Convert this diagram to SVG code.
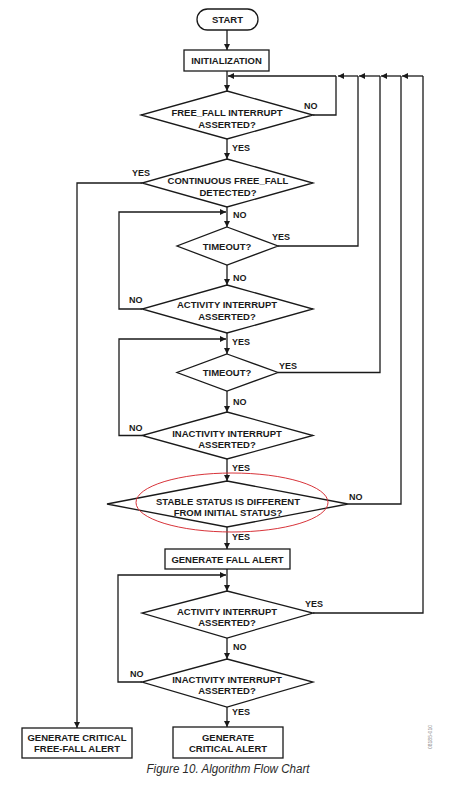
<svg xmlns="http://www.w3.org/2000/svg" width="450" height="789" viewBox="0 0 450 789">
<defs>
<style>
.n{fill:#fff;stroke:#1a1a1a;stroke-width:1.3}
.t{font-family:"Liberation Sans",Arial,sans-serif;font-weight:bold;font-size:9.5px;fill:#1a1a1a;text-anchor:middle}
.l{font-family:"Liberation Sans",Arial,sans-serif;font-weight:bold;font-size:9px;fill:#1a1a1a}
.c{fill:none;stroke:#1a1a1a;stroke-width:1.3}
.a{marker-end:url(#ah)}
</style>
<marker id="ah" viewBox="0 0 10 10" refX="10" refY="5" markerWidth="9" markerHeight="6" markerUnits="userSpaceOnUse" orient="auto">
<path d="M0,0 L10,5 L0,10 z" fill="#1a1a1a"/>
</marker>
</defs>
<rect width="450" height="789" fill="#fff"/>

<g id="connectors">
<path class="c a" d="M227,30 V50"/>
<path class="c a" d="M227,71 V91"/>
<path class="c a" d="M423,76 H402"/>
<path class="c a" d="M401,76 H381"/>
<path class="c a" d="M380,76 H359"/>
<path class="c a" d="M358,76 H338"/>
<path class="c a" d="M336,76 H228"/>
<path class="c" d="M313,115 H336 V76"/>
<path class="c a" d="M227,139 V159"/>
<path class="c a" d="M142,183 H77 V728"/>
<path class="c a" d="M227,207 V227"/>
<path class="c" d="M278,246 H358 V76"/>
<path class="c a" d="M227,265 V285"/>
<path class="c a" d="M142,309 H119 V212 H226"/>
<path class="c a" d="M227,333 V354"/>
<path class="c" d="M278,372.5 H380 V76"/>
<path class="c a" d="M227,391 V412"/>
<path class="c a" d="M142,435.5 H119 V339 H226"/>
<path class="c a" d="M227,459 V481"/>
<path class="c" d="M348,504 H401 V76"/>
<path class="c a" d="M227,527 V549"/>
<path class="c a" d="M227,569 V591"/>
<path class="c" d="M313,613 H423 V76"/>
<path class="c a" d="M142,682 H118 V575 H226"/>
<path class="c a" d="M227,638 V659"/>
<path class="c a" d="M227,707 V727"/>
<g id="labels">
<text class="l" x="304" y="109">NO</text>
<text class="l" x="232" y="151">YES</text>
<text class="l" x="132" y="176">YES</text>
<text class="l" x="233" y="218">NO</text>
<text class="l" x="272" y="240">YES</text>
<text class="l" x="233" y="281">NO</text>
<text class="l" x="129" y="303">NO</text>
<text class="l" x="232" y="345">YES</text>
<text class="l" x="279" y="369">YES</text>
<text class="l" x="233" y="405">NO</text>
<text class="l" x="129" y="431">NO</text>
<text class="l" x="232" y="471">YES</text>
<text class="l" x="349" y="500">NO</text>
<text class="l" x="232" y="540">YES</text>
<text class="l" x="305" y="607">YES</text>
<text class="l" x="233" y="650">NO</text>
<text class="l" x="130" y="677">NO</text>
<text class="l" x="232" y="715">YES</text>
</g>
</g>

<g id="start">
<rect class="n" x="197" y="9" width="61" height="21" rx="10.5"/>
<text class="t" x="227.5" y="23">START</text>
</g>
<g id="init">
<rect class="n" x="184" y="50" width="85" height="21"/>
<text class="t" x="226.5" y="64">INITIALIZATION</text>
</g>
<g id="d-freefall">
<polygon class="n" points="227,91 313,115 227,139 141,115"/>
<text class="t" x="227" y="116">FREE_FALL INTERRUPT</text>
<text class="t" x="227" y="127.5">ASSERTED?</text>
</g>
<g id="d-continuous">
<polygon class="n" points="227,159 313,183 227,207 142,183"/>
<text class="t" x="228" y="184">CONTINUOUS FREE_FALL</text>
<text class="t" x="228" y="195.5">DETECTED?</text>
</g>
<g id="d-timeout1">
<polygon class="n" points="227,227 278,246 227,265 177,246"/>
<text class="t" x="227" y="249.5">TIMEOUT?</text>
</g>
<g id="d-activity1">
<polygon class="n" points="227,285 313,309 227,333 142,309"/>
<text class="t" x="227" y="308">ACTIVITY INTERRUPT</text>
<text class="t" x="227" y="319.5">ASSERTED?</text>
</g>
<g id="d-timeout2">
<polygon class="n" points="227,354 278,372.5 227,391 177,372.5"/>
<text class="t" x="227" y="376">TIMEOUT?</text>
</g>
<g id="d-inactivity1">
<polygon class="n" points="227,412 313,435.5 227,459 142,435.5"/>
<text class="t" x="227" y="436.5">INACTIVITY INTERRUPT</text>
<text class="t" x="227" y="448">ASSERTED?</text>
</g>
<g id="d-stable">
<polygon class="n" points="227,481 348,504 227,527 107,504"/>
<text class="t" x="228" y="504.5">STABLE STATUS IS DIFFERENT</text>
<text class="t" x="228" y="516">FROM INITIAL STATUS?</text>
<ellipse cx="232" cy="502.5" rx="96" ry="29.5" fill="none" stroke="#d8343a" stroke-width="1"/>
</g>
<g id="fall-alert">
<rect class="n" x="165" y="549" width="125" height="20"/>
<text class="t" x="227.5" y="562.5">GENERATE FALL ALERT</text>
</g>
<g id="d-activity2">
<polygon class="n" points="227,591 313,613 227,638 142,613"/>
<text class="t" x="227" y="614.5">ACTIVITY INTERRUPT</text>
<text class="t" x="227" y="626">ASSERTED?</text>
</g>
<g id="d-inactivity2">
<polygon class="n" points="227,659 313,682 227,707 142,682"/>
<text class="t" x="227" y="682.5">INACTIVITY INTERRUPT</text>
<text class="t" x="227" y="694">ASSERTED?</text>
</g>
<g id="critical-freefall">
<rect class="n" x="22" y="728" width="110" height="30"/>
<text class="t" x="77" y="740.5">GENERATE CRITICAL</text>
<text class="t" x="77" y="752">FREE-FALL ALERT</text>
</g>
<g id="critical-alert">
<rect class="n" x="173" y="727" width="110" height="31"/>
<text class="t" x="228" y="740.5">GENERATE</text>
<text class="t" x="228" y="752">CRITICAL ALERT</text>
</g>
<text x="432" y="737" transform="rotate(-90 432 737)" font-family="'Liberation Sans',Arial,sans-serif" font-size="5" fill="#888" text-anchor="middle">08185-010</text>
<text x="228" y="773" font-family="'Liberation Sans',Arial,sans-serif" font-style="italic" font-size="12" fill="#2a2a2a" text-anchor="middle" textLength="163" lengthAdjust="spacingAndGlyphs">Figure 10. Algorithm Flow Chart</text>
</svg>
